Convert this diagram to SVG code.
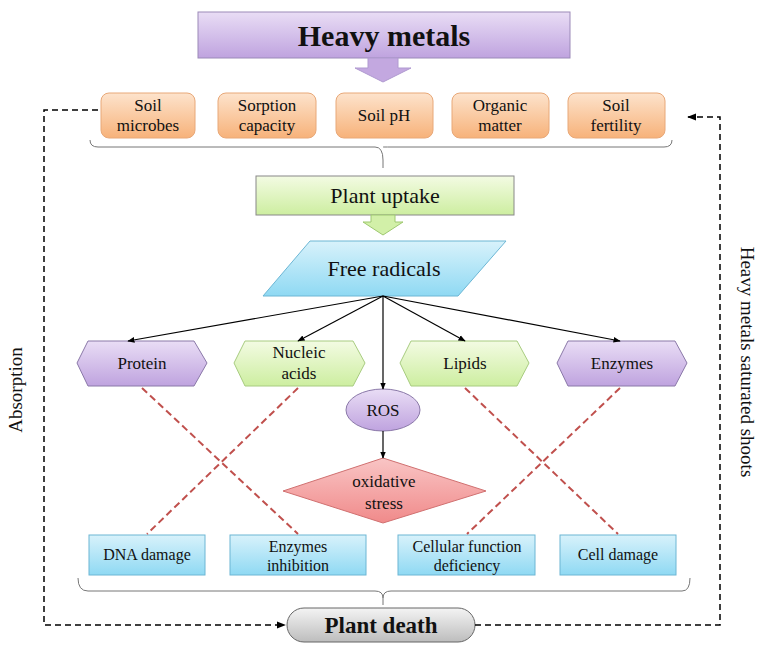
<svg xmlns="http://www.w3.org/2000/svg" width="768" height="653" viewBox="0 0 768 653">
<defs>
<linearGradient id="gp" x1="0" y1="0" x2="0" y2="1"><stop offset="0" stop-color="#e9ddf5"/><stop offset="1" stop-color="#bfa3df"/></linearGradient>
<linearGradient id="go" x1="0" y1="0" x2="0" y2="1"><stop offset="0" stop-color="#fde3cc"/><stop offset="1" stop-color="#f7b27a"/></linearGradient>
<linearGradient id="gg" x1="0" y1="0" x2="0" y2="1"><stop offset="0" stop-color="#f3fbe3"/><stop offset="1" stop-color="#cdeea0"/></linearGradient>
<linearGradient id="gb" x1="0" y1="0" x2="0" y2="1"><stop offset="0" stop-color="#d8f2fb"/><stop offset="1" stop-color="#8fd9f3"/></linearGradient>
<linearGradient id="gr" x1="0" y1="0" x2="0" y2="1"><stop offset="0" stop-color="#f9c5c5"/><stop offset="1" stop-color="#f08a8a"/></linearGradient>
<linearGradient id="gs" x1="0" y1="0" x2="0" y2="1"><stop offset="0" stop-color="#f4f4f4"/><stop offset="1" stop-color="#bdbdbd"/></linearGradient>
<marker id="ar" viewBox="0 0 10 10" refX="9" refY="5" markerWidth="6" markerHeight="6" orient="auto"><path d="M0,1 L10,5 L0,9 z" fill="#000"/></marker>
</defs>
<style>
text{font-family:"Liberation Serif","DejaVu Serif",serif;fill:#111;text-anchor:middle}
.t{font-size:17px}
.s{font-size:16px}
.o{fill:url(#go);stroke:#e8a878;stroke-width:1}
.b{fill:url(#gb);stroke:#6cb6d4;stroke-width:1}
.k{stroke:#000;stroke-width:1.2;fill:none}
.d{stroke:#000;stroke-width:1.5;fill:none;stroke-dasharray:6 4}
.r{stroke:#c0504d;stroke-width:2;fill:none;stroke-dasharray:7 4}
.br{stroke:#777;stroke-width:1;fill:none}
</style>
<g id="heavy-metals"><rect x="198" y="12" width="372" height="46" fill="url(#gp)" stroke="#9b8ab8"/><text x="384" y="46" font-size="30" font-weight="bold">Heavy metals</text><path d="M368,58 H398 V68 H411 L383,82 L355,68 H368 Z" fill="#c3a8e0" stroke="#b09ad0"/></g>
<g id="soil-microbes"><rect class="o" x="101" y="93" width="94" height="45" rx="8"/><text class="t" x="148" y="111">Soil</text><text class="t" x="148" y="131">microbes</text></g>
<g id="sorption"><rect class="o" x="218" y="93" width="98" height="45" rx="8"/><text class="t" x="267" y="111">Sorption</text><text class="t" x="267" y="131">capacity</text></g>
<g id="soil-ph"><rect class="o" x="336" y="93" width="97" height="45" rx="8"/><text class="t" x="384" y="121">Soil pH</text></g>
<g id="organic"><rect class="o" x="452" y="93" width="97" height="45" rx="8"/><text class="t" x="500" y="111">Organic</text><text class="t" x="500" y="131">matter</text></g>
<g id="soil-fertility"><rect class="o" x="568" y="93" width="97" height="45" rx="8"/><text class="t" x="616" y="111">Soil</text><text class="t" x="616" y="131">fertility</text></g>
<g id="plant-uptake"><rect x="256" y="176" width="258" height="39" fill="url(#gg)" stroke="#888"/><text x="385" y="203" font-size="22">Plant uptake</text><path d="M371,215 H395 V222 H403 L383,235 L363,222 H371 Z" fill="#d2f0a8" stroke="#9ec870"/></g>
<g id="free-radicals"><path d="M310,241 H506 L458,296 H263 Z" fill="url(#gb)" stroke="#6cb6d4"/><text x="384" y="276" font-size="22">Free radicals</text></g>
<g id="protein"><path d="M88,341 H194 L207,363 L194,386 H88 L77,363 Z" fill="url(#gp)" stroke="#8a78a8"/><text class="t" x="142" y="369">Protein</text></g>
<g id="nucleic"><path d="M245,341 H353 L365,363 L353,386 H245 L234,363 Z" fill="url(#gg)" stroke="#a8cc80"/><text class="t" x="299" y="358">Nucleic</text><text class="t" x="299" y="379">acids</text></g>
<g id="lipids"><path d="M411,341 H517 L529,363 L517,386 H411 L400,363 Z" fill="url(#gg)" stroke="#a8cc80"/><text class="t" x="465" y="369">Lipids</text></g>
<g id="enzymes"><path d="M568,341 H675 L687,363 L675,386 H568 L557,363 Z" fill="url(#gp)" stroke="#8a78a8"/><text class="t" x="622" y="369">Enzymes</text></g>
<g id="ros"><ellipse cx="383" cy="410" rx="37" ry="21" fill="url(#gp)" stroke="#8a78a8"/><text class="t" x="383" y="416">ROS</text></g>
<g id="oxidative-stress"><path d="M383,458 L486,491 L383,523 L283,491 Z" fill="url(#gr)" stroke="#d07070"/><text class="t" x="384" y="487">oxidative</text><text class="t" x="384" y="509">stress</text></g>
<g id="dna-damage"><rect class="b" x="89" y="535" width="116" height="40"/><text class="s" x="147" y="560">DNA damage</text></g>
<g id="enzymes-inhibition"><rect class="b" x="230" y="535" width="136" height="40"/><text class="s" x="298" y="552">Enzymes</text><text class="s" x="298" y="571">inhibition</text></g>
<g id="cellular"><rect class="b" x="398" y="535" width="137" height="40"/><text class="s" x="467" y="552">Cellular  function</text><text class="s" x="467" y="571">deficiency</text></g>
<g id="cell-damage"><rect class="b" x="560" y="535" width="116" height="40"/><text class="s" x="618" y="560">Cell damage</text></g>
<g id="plant-death"><rect x="287" y="608" width="188" height="34" rx="17" fill="url(#gs)" stroke="#666"/><text x="381" y="633" font-size="23" font-weight="bold">Plant death</text></g>
<g id="labels"><text transform="translate(22,390) rotate(-90)" font-size="19">Absorption</text><text transform="translate(741,362) rotate(90)" font-size="19">Heavy metals saturated shoots</text></g>
<g id="connectors">
<path class="br" d="M90,140 Q90,147 98,147 H375 Q383,147 383,160 M383,147 Q383,147 391,147 H664 Q672,147 672,140 M383,160 V168"/>
<path class="br" d="M78,578 Q78,591 88,591 H375 Q383,591 383,598 V605 M383,598 Q383,591 391,591 H682 Q690,591 690,578"/>
<line class="k" x1="383" y1="296" x2="128" y2="341" marker-end="url(#ar)"/>
<line class="k" x1="383" y1="296" x2="298" y2="341" marker-end="url(#ar)"/>
<line class="k" x1="383" y1="296" x2="383" y2="389" marker-end="url(#ar)"/>
<line class="k" x1="383" y1="296" x2="465" y2="341" marker-end="url(#ar)"/>
<line class="k" x1="383" y1="296" x2="620" y2="341" marker-end="url(#ar)"/>
<line class="k" x1="383" y1="431" x2="383" y2="458" marker-end="url(#ar)"/>
<line class="r" x1="142" y1="388" x2="298" y2="534"/>
<line class="r" x1="298" y1="388" x2="147" y2="534"/>
<line class="r" x1="465" y1="388" x2="618" y2="534"/>
<line class="r" x1="620" y1="388" x2="467" y2="534"/>
<path class="d" d="M98,110 H44 V625 H285" marker-end="url(#ar)"/>
<path class="d" d="M475,625 H720 V117 H688" marker-end="url(#ar)"/>
</g>
</svg>
